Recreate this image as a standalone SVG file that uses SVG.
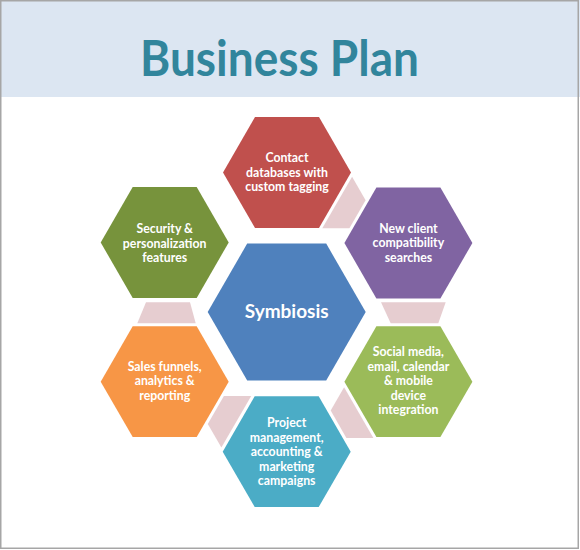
<svg xmlns="http://www.w3.org/2000/svg" xmlns:xlink="http://www.w3.org/1999/xlink" width="580" height="550" viewBox="0 0 580 550">
  <style>
    .lbl { font-family: Lato, "Open Sans", "Liberation Sans", sans-serif; font-weight: bold; font-size: 12.3px; fill: #FFFFFF; text-anchor: middle; }
    .conn { fill: #E6CDD0; }
    .title { font-family: Lato, "Open Sans", "Liberation Sans", sans-serif; font-weight: bold; font-size: 50px; fill: #31859C; text-anchor: middle; }
    .center { font-family: Lato, "Open Sans", "Liberation Sans", sans-serif; font-weight: bold; font-size: 19px; fill: #FFFFFF; text-anchor: middle; }
  </style>
  <defs>
    <polygon id="hex" points="-64,0 -32,-55.4 32,-55.4 64,0 32,55.4 -32,55.4"/>
  </defs>
  <rect x="0" y="0" width="580" height="550" fill="#FFFFFF"/>
  <rect x="0" y="0" width="580" height="97" fill="#DCE6F2"/>
  <rect x="0.75" y="0.75" width="577.5" height="547.5" fill="none" stroke="#A6A6A6" stroke-width="1.5"/>
  <text class="title" x="279.5" y="76" textLength="279" lengthAdjust="spacingAndGlyphs">Business Plan</text>

  <g id="connectors">
    <polygon class="conn" points="352.1,176.7 365.6,200.2 349.4,228.3 322.3,228.3"/>
    <polygon class="conn" points="381,302.3 445.7,302.3 438.3,323.3 390.7,323.3"/>
    <polygon class="conn" points="344.1,387.3 373.4,438 346.4,438 330.7,410.6"/>
    <polygon class="conn" points="223.9,396 251.2,396 221.4,447.6 207.8,424"/>
    <polygon class="conn" points="146,302.3 190,302.3 195.7,323.3 137.3,323.3"/>
  </g>

  <g id="node-center">
    <polygon points="207.7,312 247.2,243.6 326.2,243.6 365.7,312 326.2,380.4 247.2,380.4" fill="#4F81BD"/>
    <text class="center" x="286.7" y="317.5">Symbiosis</text>
  </g>

  <g id="node-contact">
    <use xlink:href="#hex" href="#hex" transform="translate(287,172.5)" fill="#C0504D"/>
    <text class="lbl" x="287" y="162.3">Contact</text>
    <text class="lbl" x="287" y="176.7">databases with</text>
    <text class="lbl" x="287" y="190.9">custom tagging</text>
  </g>

  <g id="node-newclient">
    <use xlink:href="#hex" href="#hex" transform="translate(408.4,243)" fill="#8064A2"/>
    <text class="lbl" x="408.4" y="232.8">New client</text>
    <text class="lbl" x="408.4" y="247.2">compatibility</text>
    <text class="lbl" x="408.4" y="261.6">searches</text>
  </g>

  <g id="node-social">
    <use xlink:href="#hex" href="#hex" transform="translate(408.4,381.7)" fill="#9BBB59"/>
    <text class="lbl" x="408.4" y="356.3">Social media,</text>
    <text class="lbl" x="408.4" y="370.7">email, calendar</text>
    <text class="lbl" x="408.4" y="385.1">&amp; mobile</text>
    <text class="lbl" x="408.4" y="399.5">device</text>
    <text class="lbl" x="408.4" y="413.9">integration</text>
  </g>

  <g id="node-project">
    <use xlink:href="#hex" href="#hex" transform="translate(286.7,451.7)" fill="#4BACC6"/>
    <text class="lbl" x="286.7" y="427.3">Project</text>
    <text class="lbl" x="286.7" y="441.7">management,</text>
    <text class="lbl" x="286.7" y="456.1">accounting &amp;</text>
    <text class="lbl" x="286.7" y="470.5">marketing</text>
    <text class="lbl" x="286.7" y="484.9">campaigns</text>
  </g>

  <g id="node-sales">
    <use xlink:href="#hex" href="#hex" transform="translate(164.7,381.7)" fill="#F79646"/>
    <text class="lbl" x="164.7" y="370.8">Sales funnels,</text>
    <text class="lbl" x="164.7" y="385.2">analytics &amp;</text>
    <text class="lbl" x="164.7" y="399.6">reporting</text>
  </g>

  <g id="node-security">
    <use xlink:href="#hex" href="#hex" transform="translate(164.7,242.5)" fill="#77933C"/>
    <text class="lbl" x="164.7" y="233.3">Security &amp;</text>
    <text class="lbl" x="164.7" y="247.7">personalization</text>
    <text class="lbl" x="164.7" y="262.1">features</text>
  </g>
</svg>
